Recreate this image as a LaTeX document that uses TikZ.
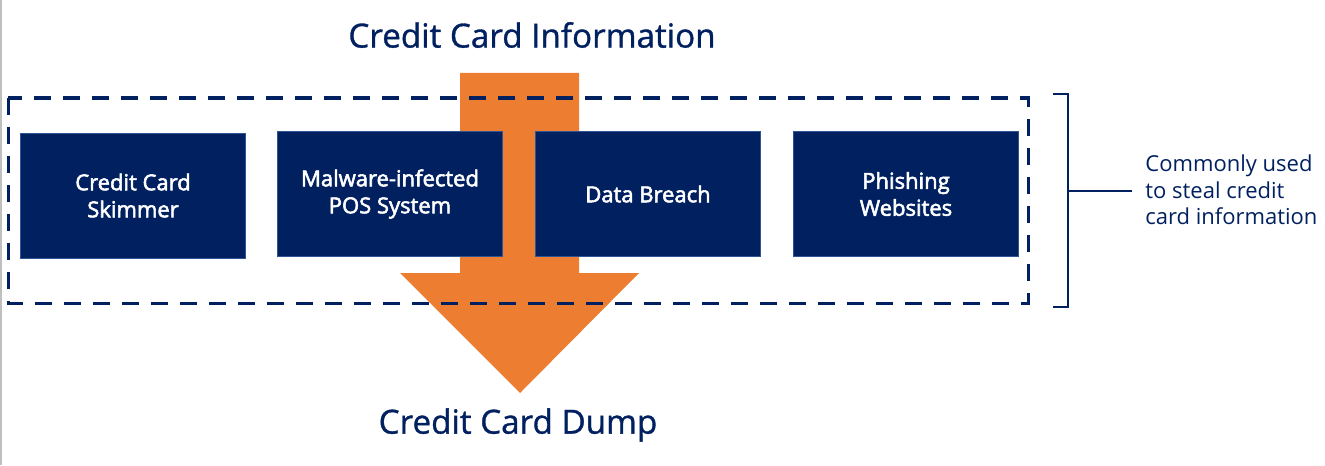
\documentclass[tikz,border=0pt]{standalone}
\usepackage{fontspec}
\setmainfont{Open Sans}
\newfontfamily\semibold[FakeBold=2.5]{Open Sans}
\newfontfamily\medium[FakeBold=1]{Open Sans}
\usepackage{xcolor}
\usepackage{tikz}
\usetikzlibrary{positioning}

\definecolor{navy}{HTML}{002060}
\definecolor{boxline}{HTML}{2F5597}
\definecolor{flow}{HTML}{ED7D31}

\tikzset{
  method/.style={draw=boxline, line width=0.5pt, fill=navy, text=white, align=center,
    minimum width=112.5pt, minimum height=62.5pt, inner sep=0pt,
    font=\semibold\fontsize{11}{13.5}\selectfont},
  heading/.style={text=navy, inner sep=0pt, font=\medium\fontsize{16.6}{20}\selectfont},
  group/.style={draw=navy, line width=1.5pt, dash pattern=on 8.5pt off 6pt},
}

\begin{document}
\begin{tikzpicture}[x=0.5pt, y=-0.5pt]
  \useasboundingbox (0,0) rectangle (1325,465);
  \draw[color=lightgray, line width=0.6pt] (1,0) -- (1,465);
  % big arrow
  \fill[flow] (460,73) -- (579,73) -- (579,273) -- (639,273) -- (520,393)
    -- (400,273) -- (460,273) -- cycle;
  \draw[group] (8,98) rectangle (1028,303);
  \node[heading] (info) at (532,35) {Credit Card Information};
  \node[heading] (dump) at (518,425) {Credit Card Dump};
  \node[method] (skim) at (133,195.5) {Credit Card\\Skimmer};
  \node[method] (pos) at (390,194) {Malware-infected\\POS System};
  \node[method] (breach) at (648,194) {Data Breach};
  \node[method] (phish) at (906,194) {Phishing\\Websites};
  % bracket and note
  \draw[navy, line width=0.6pt] (1053,94) -- (1068,94) -- (1068,307) -- (1053,307);
  \coordinate (brk) at (1068,191);
  \node[text=navy, anchor=west, align=left, inner xsep=6.5pt, inner ysep=0pt,
    font=\fontsize{11}{13.2}\selectfont] (note) at (1132,190)
    {Commonly used\\to steal credit\\card information};
  \draw[navy, line width=0.6pt] (brk) -- (brk -| note.west);
\end{tikzpicture}
\end{document}
